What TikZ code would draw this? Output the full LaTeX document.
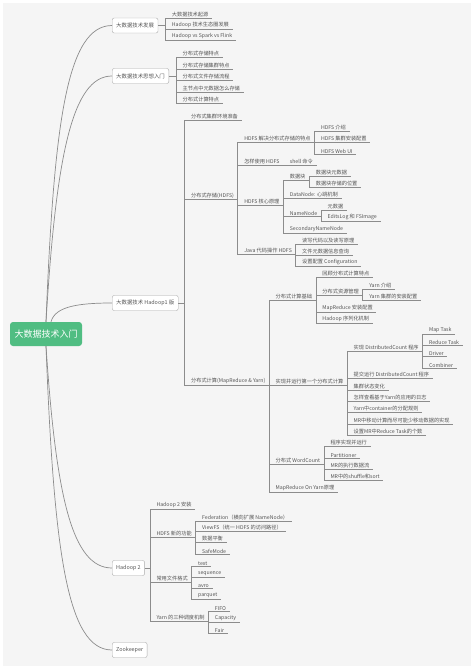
\documentclass[tikz,border=0pt]{standalone}
\usepackage{fontspec}
\setmainfont{Noto Sans CJK SC}
\usepackage{tikz}
\definecolor{rootgreen}{RGB}{80,189,130}
\definecolor{canvas}{RGB}{245,245,245}
\definecolor{txt}{RGB}{85,85,85}
\definecolor{linegray}{RGB}{140,140,140}
\definecolor{boxline}{RGB}{170,170,170}
\tikzstyle{root} = [rectangle, rounded corners=3pt, fill=rootgreen, text=white, minimum width=72pt, minimum height=24pt, font=\fontsize{9}{10}\selectfont]
\tikzstyle{topic} = [rectangle, rounded corners=2pt, draw=boxline, fill=white, text=txt, anchor=west, inner xsep=4pt, minimum height=15pt, font=\fontsize{5.4}{6}\selectfont]
\tikzstyle{leaf} = [anchor=south west, xshift=3pt, inner xsep=3.5pt, inner ysep=1.2pt, text=txt, font=\fontsize{5.2}{6}\selectfont]
\tikzstyle{link} = [draw=linegray, line width=0.45pt]
\tikzstyle{branch} = [draw=linegray, line width=0.7pt]

\begin{document}
\begin{tikzpicture}[x=1pt, y=-1pt]
    % Canvas
    \fill[white] (0,0) rectangle (474,669);
    \fill[canvas] (3,3) rectangle (471,666);
    \useasboundingbox (0,0) rectangle (474,669);

    % Root and main topics
    \node (root) [root] at (46,334) {大数据技术入门};
    \node (dev) [topic] at (112,25.5) {大数据技术发展};
    \node (idea) [topic] at (112,76) {大数据技术思想入门};
    \node (hone) [topic] at (112,303) {大数据技术 Hadoop1 版};
    \node (htwo) [topic] at (112,568) {Hadoop 2};
    \node (zk) [topic] at (112,650) {Zookeeper};

    % Curves from the root
    \draw [branch] (root.north) .. controls +(8,-200) and +(-45,0) .. (dev.west);
    \draw [branch] (root.north) .. controls +(10,-165) and +(-40,0) .. (idea.west);
    \draw [branch] ([xshift=5pt]root.north) .. controls +(4,-15) and +(-35,0) .. (hone.west);
    \draw [branch] (root.south) .. controls +(10,150) and +(-40,0) .. (htwo.west);
    \draw [branch] (root.south) .. controls +(8,205) and +(-45,0) .. (zk.west);

    % Stubs to the brackets
    \coordinate (dev-b) at ([xshift=7pt]dev.east);
    \coordinate (idea-b) at ([xshift=7pt]idea.east);
    \coordinate (hone-b) at ([xshift=6pt]hone.east);
    \coordinate (htwo-b) at ([xshift=5pt]htwo.east);
    \draw [link] (dev.east) -- (dev-b);
    \draw [link] (idea.east) -- (idea-b);
    \draw [link] (hone.east) -- (hone-b);
    \draw [link] (htwo.east) -- (htwo-b);

    % 大数据技术发展
    \node (origin) [leaf] at (dev-b |- 0,18.5) {大数据技术起源};
    \node (eco) [leaf] at (dev-b |- 0,29.5) {Hadoop 技术生态圈发展};
    \node (vs) [leaf] at (dev-b |- 0,40.5) {Hadoop vs Spark vs Flink};
    \foreach \n in {origin, eco, vs}
        \draw [link] (dev-b) |- (\n.south east);

    % 大数据技术思想入门
    \node (store) [leaf] at (idea-b |- 0,57.5) {分布式存储特点};
    \node (cluster) [leaf] at (idea-b |- 0,69) {分布式存储集群特点};
    \node (flow) [leaf] at (idea-b |- 0,80.5) {分布式文件存储流程};
    \node (meta) [leaf] at (idea-b |- 0,92) {主节点中元数据怎么存储};
    \node (comp) [leaf] at (idea-b |- 0,103.5) {分布式计算特点};
    \foreach \n in {store, cluster, flow, meta, comp}
        \draw [link] (idea-b) |- (\n.south east);

    % Hadoop1
    \node (env) [leaf] at (hone-b |- 0,120.5) {分布式集群环境准备};
    \node (hdfs) [leaf] at (hone-b |- 0,199.5) {分布式存储(HDFS)};
    \node (mr) [leaf] at (hone-b |- 0,385.5) {分布式计算(MapReduce \& Yarn)};
    \foreach \n in {env, hdfs, mr}
        \draw [link] (hone-b) |- (\n.south east);

    % HDFS
    \node (solve) [leaf] at (hdfs.south east |- 0,142.5) {HDFS 解决分布式存储的特点};
    \node (use) [leaf] at (hdfs.south east |- 0,165.5) {怎样使用 HDFS};
    \node (core) [leaf] at (hdfs.south east |- 0,205.5) {HDFS 核心原理};
    \node (java) [leaf] at (hdfs.south east |- 0,254.5) {Java 代码操作 HDFS};
    \foreach \n in {solve, use, core, java}
        \draw [link] (hdfs.south east) |- (\n.south east);

    \node (intro) [leaf] at (solve.south east |- 0,131.5) {HDFS 介绍};
    \node (install) [leaf] at (solve.south east |- 0,142.5) {HDFS 集群安装配置};
    \node (webui) [leaf] at (solve.south east |- 0,154.5) {HDFS Web UI};
    \foreach \n in {intro, install, webui}
        \draw [link] (solve.south east) |- (\n.south east);

    \node (shell) [leaf] at (use.south east |- 0,165.5) {shell 命令};
    \draw [link] (use.south east) -- (shell.south east);

    \node (block) [leaf] at (core.south east |- 0,180.5) {数据块};
    \node (dn) [leaf] at (core.south east |- 0,198.5) {DataNode: 心跳机制};
    \node (nn) [leaf] at (core.south east |- 0,216.5) {NameNode};
    \node (snn) [leaf] at (core.south east |- 0,233.5) {SecondaryNameNode};
    \foreach \n in {block, dn, nn, snn}
        \draw [link] (core.south east) |- (\n.south east);

    \node (bmeta) [leaf] at (block.south east |- 0,176.5) {数据块元数据};
    \node (bloc) [leaf] at (block.south east |- 0,187.5) {数据块存储的位置};
    \foreach \n in {bmeta, bloc}
        \draw [link] (block.south east) |- (\n.south east);

    \node (nmeta) [leaf] at (nn.south east |- 0,210.5) {元数据};
    \node (edits) [leaf] at (nn.south east |- 0,221.5) {EditsLog 和 FSImage};
    \foreach \n in {nmeta, edits}
        \draw [link] (nn.south east) |- (\n.south east);

    \node (rw) [leaf] at (java.south east |- 0,244.5) {读写代码以及读写原理};
    \node (query) [leaf] at (java.south east |- 0,255.5) {文件元数据信息查询};
    \node (conf) [leaf] at (java.south east |- 0,266.5) {设置配置 Configuration};
    \foreach \n in {rw, query, conf}
        \draw [link] (java.south east) |- (\n.south east);

    % MapReduce & Yarn
    \node (base) [leaf] at (mr.south east |- 0,300.5) {分布式计算基础};
    \node (first) [leaf] at (mr.south east |- 0,385.5) {实现并运行第一个分布式计算};
    \node (wc) [leaf] at (mr.south east |- 0,464.5) {分布式 WordCount};
    \node (onyarn) [leaf] at (mr.south east |- 0,492.5) {MapReduce On Yarn原理};
    \foreach \n in {base, first, wc, onyarn}
        \draw [link] (mr.south east) |- (\n.south east);

    \node (review) [leaf] at (base.south east |- 0,277.5) {回顾分布式计算特点};
    \node (res) [leaf] at (base.south east |- 0,295.5) {分布式资源管理};
    \node (mrinst) [leaf] at (base.south east |- 0,312.5) {MapReduce 安装配置};
    \node (ser) [leaf] at (base.south east |- 0,323.5) {Hadoop 序列化机制};
    \foreach \n in {review, res, mrinst, ser}
        \draw [link] (base.south east) |- (\n.south east);

    \node (yintro) [leaf] at (res.south east |- 0,289.5) {Yarn 介绍};
    \node (yinst) [leaf] at (res.south east |- 0,300.5) {Yarn 集群的安装配置};
    \foreach \n in {yintro, yinst}
        \draw [link] (res.south east) |- (\n.south east);

    \node (impl) [leaf] at (first.south east |- 0,351.5) {实现 DistributedCount 程序};
    \node (submit) [leaf] at (first.south east |- 0,378.5) {提交运行 DistributedCount 程序};
    \node (state) [leaf] at (first.south east |- 0,390.5) {集群状态变化};
    \node (logs) [leaf] at (first.south east |- 0,401.5) {怎样查看基于Yarn的应用的日志};
    \node (cont) [leaf] at (first.south east |- 0,412.5) {Yarn中container的分配规则};
    \node (local) [leaf] at (first.south east |- 0,424.5) {MR中移动计算而尽可能少移动数据的实现};
    \node (rnum) [leaf] at (first.south east |- 0,435.5) {设置MR中Reduce Task的个数};
    \foreach \n in {impl, submit, state, logs, cont, local, rnum}
        \draw [link] (first.south east) |- (\n.south east);

    \node (maptask) [leaf] at (impl.south east |- 0,334.5) {Map Task};
    \node (redtask) [leaf] at (impl.south east |- 0,345.5) {Reduce Task};
    \node (driver) [leaf] at (impl.south east |- 0,356.5) {Driver};
    \node (combiner) [leaf] at (impl.south east |- 0,368.5) {Combiner};
    \foreach \n in {maptask, redtask, driver, combiner}
        \draw [link] (impl.south east) |- (\n.south east);

    \node (run) [leaf] at (wc.south east |- 0,446.5) {程序实现并运行};
    \node (part) [leaf] at (wc.south east |- 0,458.5) {Partitioner};
    \node (dflow) [leaf] at (wc.south east |- 0,469.5) {MR的执行数据流};
    \node (shuffle) [leaf] at (wc.south east |- 0,480.5) {MR中的shuffle和sort};
    \foreach \n in {run, part, dflow, shuffle}
        \draw [link] (wc.south east) |- (\n.south east);

    % Hadoop 2
    \node (h2inst) [leaf] at (htwo-b |- 0,509.5) {Hadoop 2 安装};
    \node (newf) [leaf] at (htwo-b |- 0,537.5) {HDFS 新的功能};
    \node (fmt) [leaf] at (htwo-b |- 0,582.5) {常用文件格式};
    \node (sched) [leaf] at (htwo-b |- 0,621.5) {Yarn 的三种调度机制};
    \foreach \n in {h2inst, newf, fmt, sched}
        \draw [link] (htwo-b) |- (\n.south east);

    \node (fed) [leaf] at (newf.south east |- 0,521.5) {Federation（横向扩展 NameNode）};
    \node (viewfs) [leaf] at (newf.south east |- 0,531.5) {ViewFS（统一 HDFS 的访问路径）};
    \node (bal) [leaf] at (newf.south east |- 0,542.5) {数据平衡};
    \node (safe) [leaf] at (newf.south east |- 0,554.5) {SafeMode};
    \foreach \n in {fed, viewfs, bal, safe}
        \draw [link] (newf.south east) |- (\n.south east);

    \node (ftext) [leaf] at (fmt.south east |- 0,566.5) {text};
    \node (fseq) [leaf] at (fmt.south east |- 0,577.5) {sequence};
    \node (favro) [leaf] at (fmt.south east |- 0,588.5) {avro};
    \node (fparq) [leaf] at (fmt.south east |- 0,599.5) {parquet};
    \foreach \n in {ftext, fseq, favro, fparq}
        \draw [link] (fmt.south east) |- (\n.south east);

    \node (fifo) [leaf] at (sched.south east |- 0,611.5) {FIFO};
    \node (cap) [leaf] at (sched.south east |- 0,622.5) {Capacity};
    \node (fair) [leaf] at (sched.south east |- 0,633.5) {Fair};
    \foreach \n in {fifo, cap, fair}
        \draw [link] (sched.south east) |- (\n.south east);
\end{tikzpicture}
\end{document}
